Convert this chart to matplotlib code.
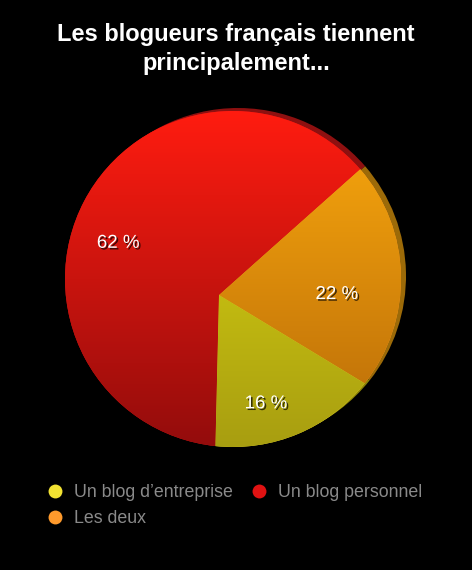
import numpy as np
import matplotlib.pyplot as plt
import matplotlib.patheffects as pe
from matplotlib.colors import LinearSegmentedColormap
from matplotlib.lines import Line2D
from matplotlib.patches import PathPatch
from matplotlib.path import Path

plt.rcParams['font.family'] = ['Liberation Sans', 'DejaVu Sans']

title = "Les blogueurs français tiennent\nprincipalement..."
categories = ["Un blog d\u2019entreprise", "Un blog personnel", "Les deux"]
values = [16, 62, 22]
legend_colors = ["#f2e232", "#e01212", "#ff9a2c"]

# gradient (top, bottom) and rim colour for each slice
grad = {
    0: ("#e2dc12", "#a89e10"),
    1: ("#ff1c10", "#930c0c"),
    2: ("#fbaa0e", "#b86a08"),
}
rim = ["#8a8208", "#8e1010", "#9c6a08"]

W, H = 472, 570
fig = plt.figure(figsize=(W / 100, H / 100), dpi=100, facecolor="black")
ax = fig.add_axes([0, 0, 1, 1])

cx, cy, r = 233, H - 279, 168
# the apex of the slices sits a bit off centre (tilted pie look)
vx, vy = 219, H - 295


def tilt(pts):
    d = np.hypot(pts[:, 0] - cx, pts[:, 1] - cy) / r
    k = np.clip(1 - d, 0, 1)[:, None]
    return pts + k * np.array([vx - cx, vy - cy])


# draw order around the pie: personnel, deux, entreprise (clockwise from bottom)
order = [1, 2, 0]
vals = [values[i] for i in order]
start = -96

# dark rim behind
ax.pie(vals, colors=[rim[i] for i in order], startangle=start, counterclock=False,
       center=(cx + 5, cy + 3), radius=r, frame=True,
       wedgeprops=dict(linewidth=0))

wedges, _, autotexts = ax.pie(
    vals, colors=[legend_colors[i] for i in order], startangle=start,
    counterclock=False, center=(cx, cy), radius=r, frame=True,
    autopct=lambda p: f"{p:.0f} %", pctdistance=0.69,
    wedgeprops=dict(linewidth=0),
    textprops=dict(color="white", fontsize=13.5))

ax.set_xlim(0, W)
ax.set_ylim(0, H)
ax.set_aspect("equal")
ax.axis("off")

yy = np.linspace(0, 1, 256).reshape(-1, 1)
for w, i in zip(wedges, order):
    p = w.get_path()
    shape = PathPatch(Path(tilt(p.vertices), p.codes), facecolor=w.get_facecolor(),
                      linewidth=0, zorder=w.get_zorder())
    ax.add_patch(shape)
    w.set_visible(False)
    cmap = LinearSegmentedColormap.from_list(f"g{i}", [grad[i][0], grad[i][1]])
    im = ax.imshow(yy, cmap=cmap, aspect="auto", origin="upper",
                   extent=(cx - r, cx + r, cy - r, cy + r), zorder=w.get_zorder() + 0.1)
    im.set_clip_path(shape)

ax.set_xlim(0, W)
ax.set_ylim(0, H)

# labels keep their offset from the apex, not from the circle centre
for t in autotexts:
    x, y = t.get_position()
    t.set_position((vx + x - cx + 2, vy + y - cy - 2))
    t.set_zorder(10)
    t.set_path_effects([pe.SimplePatchShadow(offset=(1.2, -1.2), shadow_rgbFace="black", alpha=0.7),
                        pe.Normal()])

fig.text(0.5, 1 - 49 / H, title, ha="center", va="center", color="white",
         fontsize=17, fontweight="bold", linespacing=1.32)

handles = [Line2D([], [], marker="o", linestyle="none", markersize=10,
                  markerfacecolor=c, markeredgewidth=0) for c in legend_colors]
hidx = [0, 2, 1]
leg = fig.legend([handles[i] for i in hidx], [categories[i] for i in hidx],
                 ncol=2, loc="upper left", bbox_to_anchor=(28 / W, 1 - 468 / H),
                 frameon=False, fontsize=12.8, labelcolor="#8a8a8a",
                 handletextpad=0.5, columnspacing=0.85, labelspacing=0.5,
                 handlelength=1.2)

fig.savefig("out.png", dpi=100, facecolor="black")
